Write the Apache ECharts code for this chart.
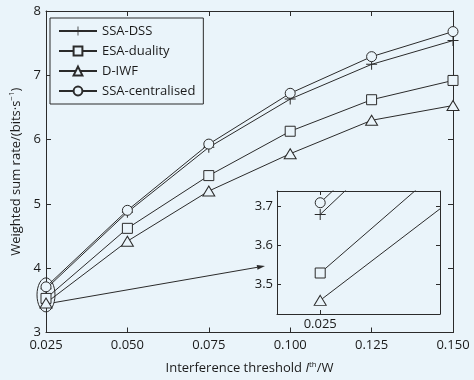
<!DOCTYPE html>
<html>
<head>
<meta charset="utf-8">
<script src="https://cdn.jsdelivr.net/npm/echarts@6/dist/echarts.min.js"></script>
<style>
html,body{margin:0;padding:0;background:#eaf4fa;}
#c{width:474px;height:380px;}
</style>
</head>
<body>
<div id="c"></div>
<script>
const xValues = [0.025, 0.050, 0.075, 0.100, 0.125, 0.150];
const ssaDss = [3.68, 4.87, 5.88, 6.63, 7.17, 7.54];
const esaDuality = [3.53, 4.62, 5.44, 6.13, 6.62, 6.92];
const dIwf = [3.46, 4.42, 5.20, 5.78, 6.30, 6.53];
const ssaCentralised = [3.71, 4.90, 5.93, 6.72, 7.29, 7.68];
const seriesNames = ['SSA-DSS', 'ESA-duality', 'D-IWF', 'SSA-centralised'];
const insetYTicks = [3.5, 3.6, 3.7];
const insetXTicks = [0.025];

const BG = '#eaf4fa';
const INK = '#2b2b2b';
const TXT = '#1a1a1a';
const FONT = 'Open Sans';
const plusPath = 'path://M-0.09,-1 L0.09,-1 L0.09,-0.09 L1,-0.09 L1,0.09 L0.09,0.09 L0.09,1 L-0.09,1 L-0.09,0.09 L-1,0.09 L-1,-0.09 L-0.09,-0.09 Z';

const allData = [ssaDss, esaDuality, dIwf, ssaCentralised];
const symbols = [plusPath, 'rect', 'triangle', 'circle'];
const symSizes = [11, 10, [12, 10], 10];

function pts(arr) { return xValues.map((x, i) => [x, arr[i]]); }

function makeSeries(idx, gridIdx) {
  const isPlus = idx === 0;
  return {
    name: gridIdx === 0 ? seriesNames[idx] : 'inset-' + seriesNames[idx],
    type: 'line',
    xAxisIndex: gridIdx === 0 ? 0 : 2,
    yAxisIndex: gridIdx === 0 ? 0 : 2,
    data: pts(allData[idx]),
    symbol: symbols[idx],
    symbolSize: symSizes[idx],
    showAllSymbol: true,
    clip: true,
    silent: true,
    animation: false,
    lineStyle: { color: INK, width: 1 },
    itemStyle: isPlus ? { color: INK, borderWidth: 0 } : { color: BG, borderColor: INK, borderWidth: 1 },
    z: 3
  };
}

const series = [];
for (let i = 0; i < 4; i++) series.push(makeSeries(i, 0));
for (let i = 0; i < 4; i++) series.push(makeSeries(i, 1));

const tickStyle = { inside: true, length: 5, lineStyle: { color: INK, width: 1 } };
const axisLineStyle = { show: true, lineStyle: { color: INK, width: 1 } };
const labelStyle = { color: TXT, fontSize: 13, fontFamily: FONT };

const option = {
  backgroundColor: BG,
  animation: false,
  textStyle: { fontFamily: FONT },
  grid: [
    { left: 42, right: 21, top: 11, bottom: 47 },
    { left: 277, top: 191, width: 163, height: 123 }
  ],
  legend: {
    data: seriesNames,
    orient: 'vertical',
    left: 50, top: 18,
    padding: [5, 8, 5, 8],
    itemGap: 4,
    itemWidth: 38,
    itemHeight: 11,
    borderColor: INK,
    borderWidth: 1,
    backgroundColor: BG,
    textStyle: { color: TXT, fontSize: 13, fontFamily: FONT, lineHeight: 16 },
    selectedMode: false
  },
  xAxis: [
    {
      type: 'value', gridIndex: 0, min: 0.025, max: 0.15, interval: 0.025,
      axisLine: axisLineStyle, axisTick: tickStyle, splitLine: { show: false },
      axisLabel: Object.assign({ formatter: v => v.toFixed(3), margin: 6 }, labelStyle),
      name: '{n|Interference threshold }{i|I}{s|th}{n|/W}',
      nameLocation: 'middle', nameGap: 28,
      nameTextStyle: {
        rich: {
          n: { fontSize: 13, fontFamily: FONT, color: TXT },
          i: { fontSize: 13, fontFamily: FONT, fontStyle: 'italic', color: TXT },
          s: { fontSize: 8, fontFamily: FONT, color: TXT, verticalAlign: 'top', padding: [0, 0, 8, 0] }
        }
      }
    },
    {
      type: 'value', gridIndex: 0, position: 'top', min: 0.025, max: 0.15, interval: 0.025,
      axisLine: axisLineStyle, axisTick: tickStyle, axisLabel: { show: false }, splitLine: { show: false }
    },
    {
      type: 'value', gridIndex: 1, min: 0.0228, max: 0.0311,
      axisLine: axisLineStyle,
      axisTick: Object.assign({ customValues: insetXTicks }, tickStyle, { length: 4 }),
      axisLabel: Object.assign({ customValues: insetXTicks, formatter: v => v.toFixed(3), margin: 4 }, labelStyle),
      splitLine: { show: false }
    },
    {
      type: 'value', gridIndex: 1, position: 'top', min: 0.0228, max: 0.0311,
      axisLine: axisLineStyle,
      axisTick: Object.assign({ customValues: insetXTicks }, tickStyle, { length: 4 }),
      axisLabel: { show: false }, splitLine: { show: false }
    }
  ],
  yAxis: [
    {
      type: 'value', gridIndex: 0, min: 3, max: 8, interval: 1,
      axisLine: axisLineStyle, axisTick: tickStyle, splitLine: { show: false },
      axisLabel: Object.assign({ margin: 5 }, labelStyle),
      name: '{n|Weighted sum rate/(bits·s}{s|−1}{n|)}',
      nameLocation: 'middle', nameGap: 22,
      nameTextStyle: {
        rich: {
          n: { fontSize: 13, fontFamily: FONT, color: TXT },
          s: { fontSize: 8, fontFamily: FONT, color: TXT, verticalAlign: 'top', padding: [0, 0, 8, 0] }
        }
      }
    },
    {
      type: 'value', gridIndex: 0, position: 'right', min: 3, max: 8, interval: 1,
      axisLine: axisLineStyle, axisTick: tickStyle, axisLabel: { show: false }, splitLine: { show: false }
    },
    {
      type: 'value', gridIndex: 1, min: 3.425, max: 3.74,
      axisLine: axisLineStyle,
      axisTick: Object.assign({ customValues: insetYTicks }, tickStyle, { length: 4 }),
      axisLabel: Object.assign({ customValues: insetYTicks, formatter: v => v.toFixed(1), margin: 4 }, labelStyle),
      splitLine: { show: false }
    },
    {
      type: 'value', gridIndex: 1, position: 'right', min: 3.425, max: 3.74,
      axisLine: axisLineStyle,
      axisTick: Object.assign({ customValues: insetYTicks }, tickStyle, { length: 4 }),
      axisLabel: { show: false }, splitLine: { show: false }
    }
  ],
  series: series
};

const chart = echarts.init(document.getElementById('c'), null, { renderer: 'canvas' });
chart.setOption(option);

// annotation: ellipse round the 0.025 points and arrow to the inset
const mainFinder = { xAxisIndex: 0, yAxisIndex: 0 };
const insetFinder = { xAxisIndex: 2, yAxisIndex: 2 };
const ec = chart.convertToPixel(mainFinder, [0.025, 3.585]);
const aStart = chart.convertToPixel(mainFinder, [0.025, 3.465]);
aStart[0] += 8;
const insetLeft = chart.convertToPixel(insetFinder, [0.0228, 3.548]);
const aEnd = [insetLeft[0] - 12, insetLeft[1]];
const ang = Math.atan2(aEnd[1] - aStart[1], aEnd[0] - aStart[0]);
const hl = 8, hw = 2.5;
const bx = aEnd[0] - hl * Math.cos(ang), by = aEnd[1] - hl * Math.sin(ang);
const head = [
  aEnd,
  [bx + hw * Math.sin(ang), by - hw * Math.cos(ang)],
  [bx - hw * Math.sin(ang), by + hw * Math.cos(ang)]
];
chart.setOption({
  graphic: [
    { type: 'ellipse', shape: { cx: ec[0], cy: ec[1], rx: 9, ry: 17 }, style: { fill: 'none', stroke: INK, lineWidth: 1 }, z: 10, silent: true },
    { type: 'line', shape: { x1: aStart[0], y1: aStart[1], x2: bx, y2: by }, style: { stroke: INK, lineWidth: 1 }, z: 10, silent: true },
    { type: 'polygon', shape: { points: head }, style: { fill: INK }, z: 10, silent: true }
  ]
});
</script>
</body>
</html>
